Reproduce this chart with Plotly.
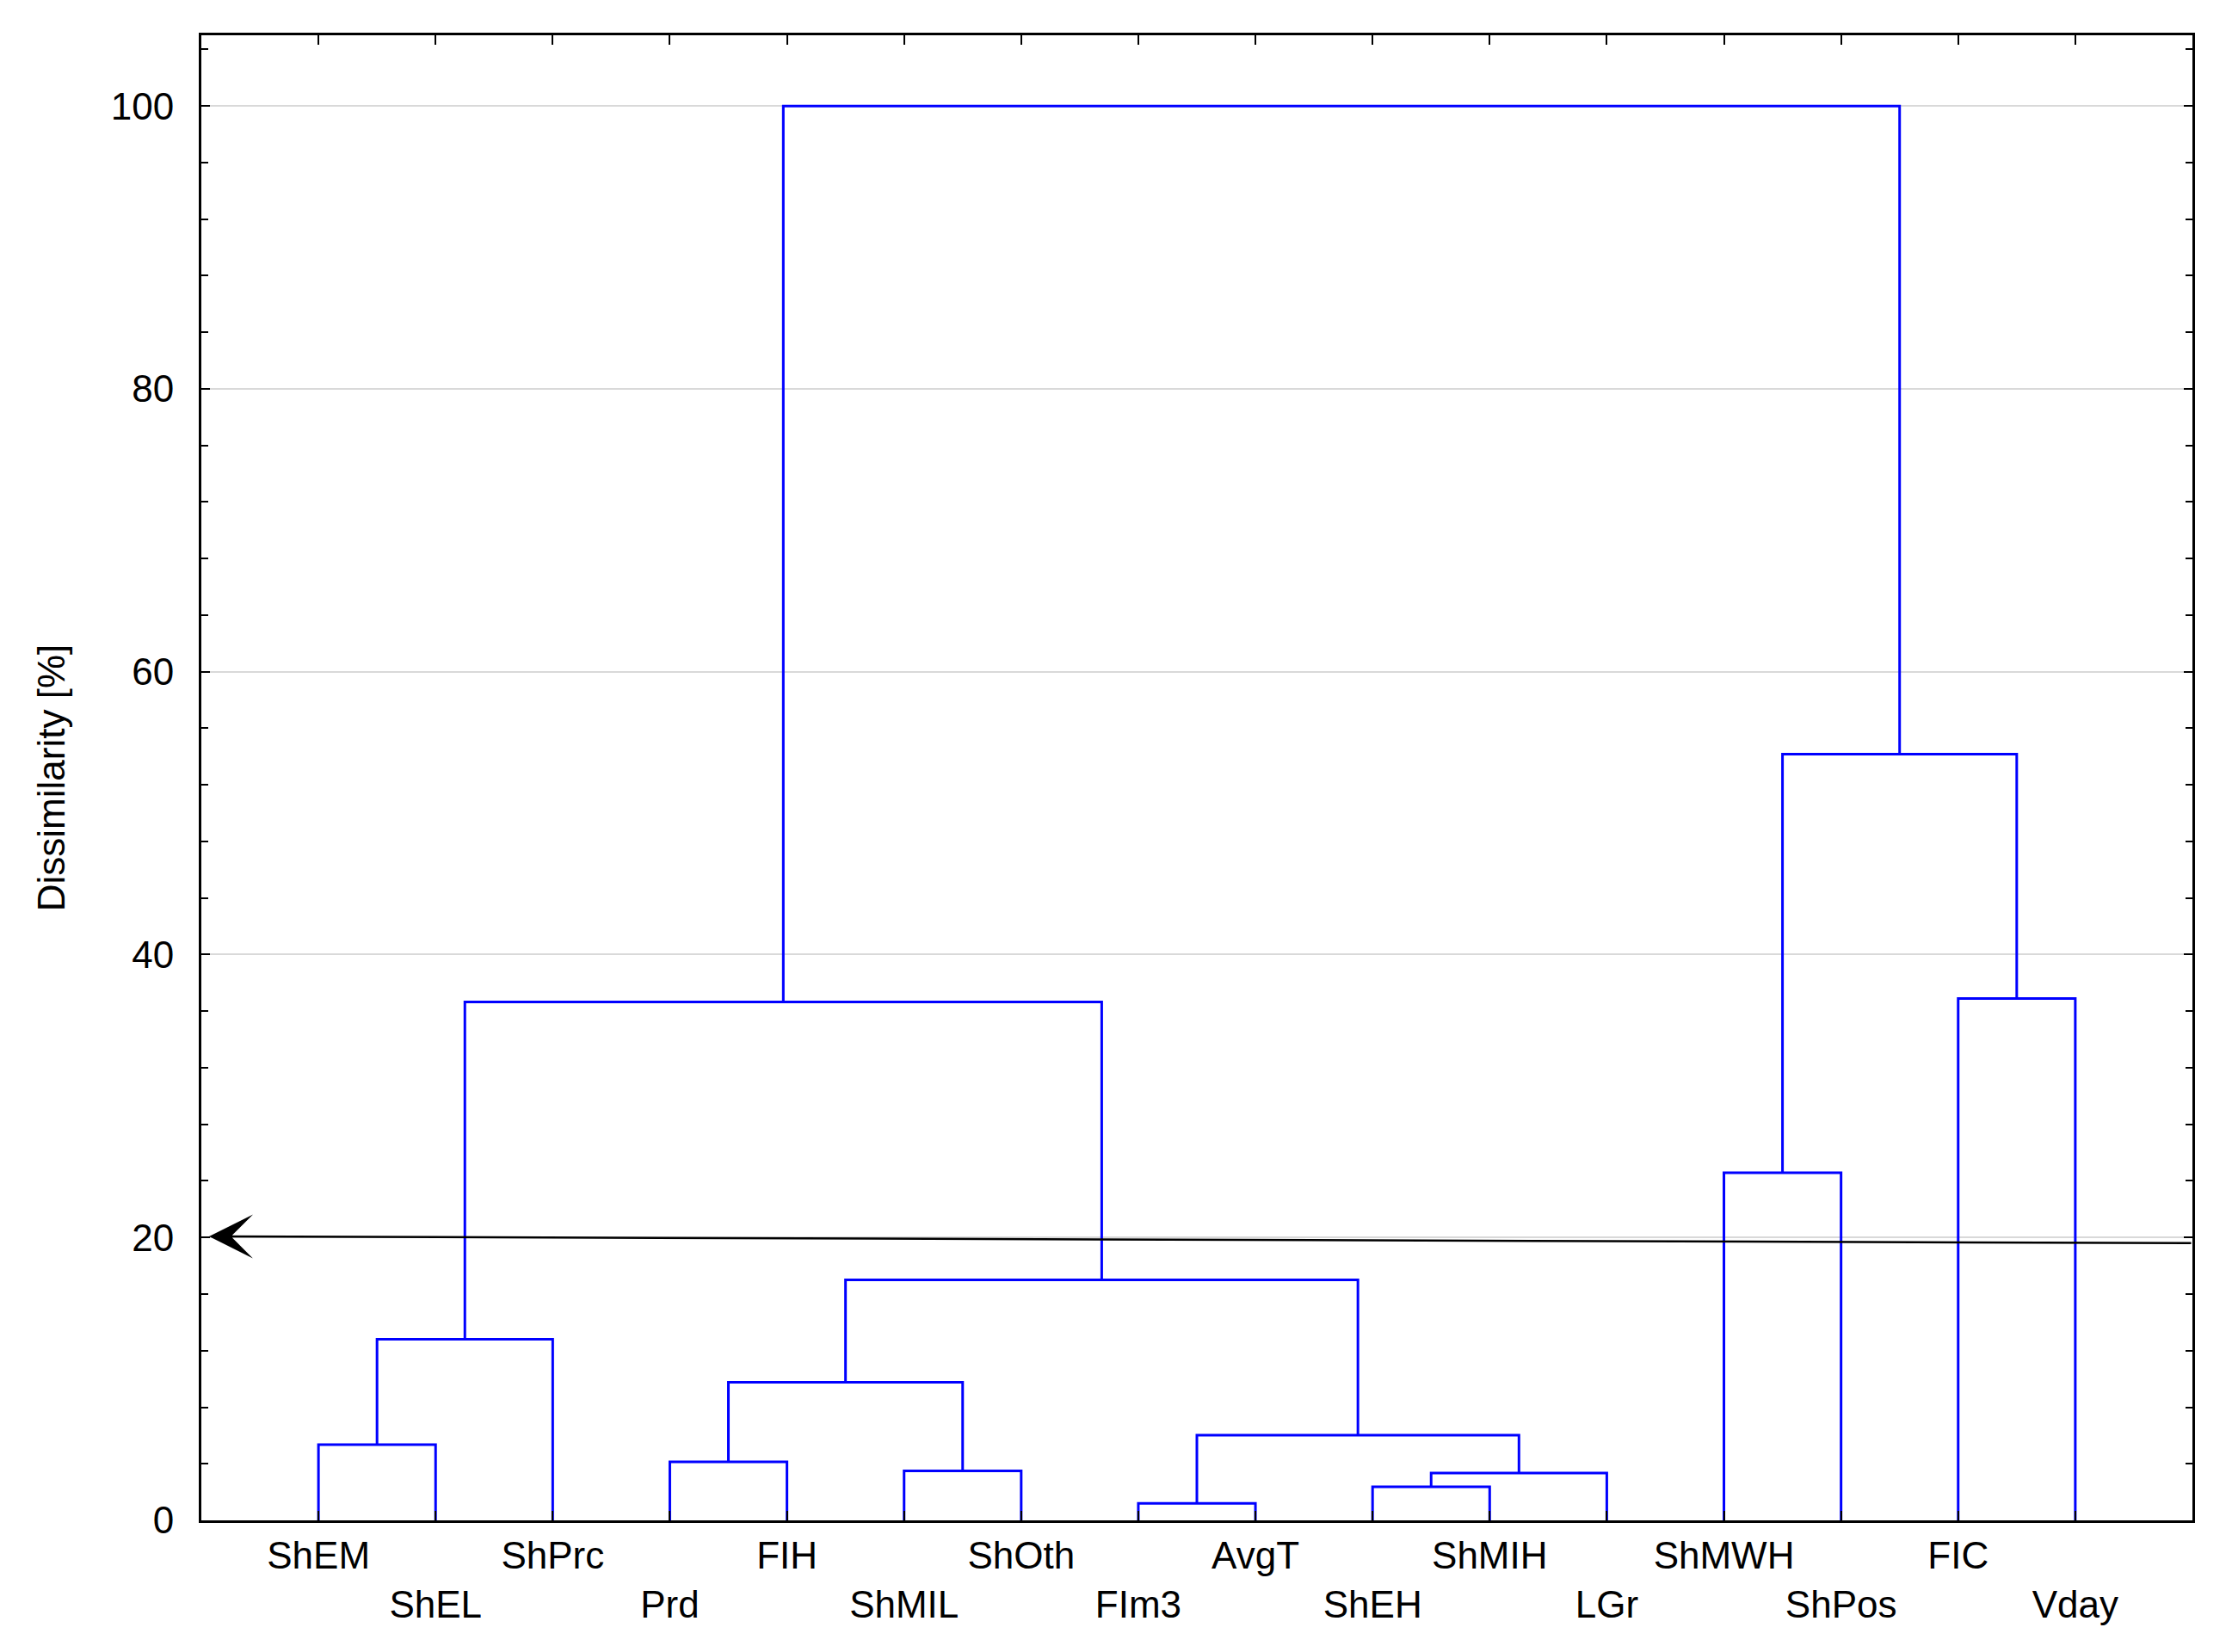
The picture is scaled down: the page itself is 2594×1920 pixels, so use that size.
import plotly.graph_objects as go

# Leaf order along the x axis
leaf_labels = ["ShEM", "ShEL", "ShPrc", "Prd", "FIH", "ShMIL", "ShOth", "FIm3",
               "AvgT", "ShEH", "ShMIH", "LGr", "ShMWH", "ShPos", "FIC", "Vday"]

# Linkage: node ids 0..15 are leaves, each merge creates node 16, 17, ...
merge_left = [0, 16, 3, 5, 18, 7, 9, 22, 21, 20, 17, 12, 14, 27, 26]
merge_right = [1, 2, 4, 6, 19, 8, 10, 11, 23, 24, 25, 13, 15, 28, 29]
merge_height = [5.36, 12.8, 4.13, 3.5, 9.77, 1.2, 2.37, 3.35, 6.03, 17.0,
                36.66, 24.57, 36.89, 54.17, 100.0]

# Cut line drawn as an arrow (right end -> left end)
cut_right = 19.6
cut_left = 20.08

y_ticks = [0, 20, 40, 60, 80, 100]

n = len(leaf_labels)
node_x = {i: i + 1 for i in range(n)}
node_h = {i: 0.0 for i in range(n)}

link_x = []
link_y = []
for k, (a, b, h) in enumerate(zip(merge_left, merge_right, merge_height)):
    node = n + k
    node_x[node] = (node_x[a] + node_x[b]) / 2
    node_h[node] = h
    link_x += [node_x[a], node_x[a], node_x[b], node_x[b], None]
    link_y += [node_h[a], h, h, node_h[b], None]

font = "Liberation Sans, Arial, sans-serif"

fig = go.Figure()
fig.add_trace(go.Scatter(
    x=link_x, y=link_y, mode="lines",
    line=dict(color="#0000ff", width=3),
    hoverinfo="skip", showlegend=False,
))

# stagger the labels on two rows
tick_text = [lab if i % 2 == 0 else "<br>" + lab for i, lab in enumerate(leaf_labels)]

fig.add_annotation(
    x=0.066, y=cut_left, ax=n + 1, ay=cut_right,
    xref="x", yref="y", axref="x", ayref="y",
    text="", showarrow=True, arrowhead=3, arrowsize=3.4,
    arrowwidth=2.5, arrowcolor="black",
)

fig.update_layout(
    width=2594, height=1920,
    margin=dict(l=226, r=54, t=33, b=161),
    paper_bgcolor="white", plot_bgcolor="white",
    font=dict(family=font, size=44, color="black"),
    xaxis=dict(
        range=[0, n + 1],
        tickvals=list(range(1, n + 1)), ticktext=tick_text, tickangle=0,
        ticks="inside", ticklen=11, tickwidth=2, tickcolor="black",
        showline=True, linewidth=3, linecolor="black", mirror="ticks",
        showgrid=False, zeroline=False, automargin=False,
        tickfont=dict(family=font, size=44, color="black"),
    ),
    yaxis=dict(
        range=[0, 105],
        tickvals=y_ticks, automargin=False,
        ticks="inside", ticklen=10, tickwidth=2, tickcolor="black",
        minor=dict(dtick=4, tick0=0, ticks="inside", ticklen=8,
                   tickwidth=2, tickcolor="black", showgrid=False),
        showline=True, linewidth=3, linecolor="black", mirror="ticks",
        showgrid=True, gridcolor="#d9d9d9", gridwidth=2, zeroline=False,
        ticklabelstandoff=20,
        tickfont=dict(family=font, size=44, color="black"),
        title=dict(text="Dissimilarity [%]", standoff=40,
                   font=dict(family=font, size=44, color="black")),
    ),
)

fig.write_html("out.html")
